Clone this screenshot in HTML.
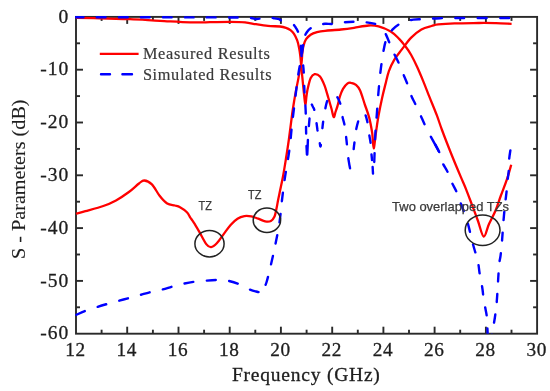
<!DOCTYPE html>
<html><head><meta charset="utf-8"><style>
html,body{margin:0;padding:0;background:#fff;width:550px;height:391px;overflow:hidden}
svg{display:block}
</style></head><body>
<svg width="550" height="391" viewBox="0 0 550 391">
<rect width="550" height="391" fill="#fff"/>
<defs><clipPath id="c"><rect x="75.0" y="12.899999999999999" width="463.1" height="320.8"/></clipPath></defs>

<g stroke="#2a2a2a" stroke-width="1.9" fill="none">
<rect x="76.0" y="16.9" width="461.1" height="316.8"/>
<line x1="101.6" y1="333.7" x2="101.6" y2="329.7"/>
<line x1="101.6" y1="16.9" x2="101.6" y2="20.9"/>
<line x1="127.2" y1="333.7" x2="127.2" y2="326.7"/>
<line x1="127.2" y1="16.9" x2="127.2" y2="23.9"/>
<line x1="152.9" y1="333.7" x2="152.9" y2="329.7"/>
<line x1="152.9" y1="16.9" x2="152.9" y2="20.9"/>
<line x1="178.5" y1="333.7" x2="178.5" y2="326.7"/>
<line x1="178.5" y1="16.9" x2="178.5" y2="23.9"/>
<line x1="204.1" y1="333.7" x2="204.1" y2="329.7"/>
<line x1="204.1" y1="16.9" x2="204.1" y2="20.9"/>
<line x1="229.7" y1="333.7" x2="229.7" y2="326.7"/>
<line x1="229.7" y1="16.9" x2="229.7" y2="23.9"/>
<line x1="255.3" y1="333.7" x2="255.3" y2="329.7"/>
<line x1="255.3" y1="16.9" x2="255.3" y2="20.9"/>
<line x1="280.9" y1="333.7" x2="280.9" y2="326.7"/>
<line x1="280.9" y1="16.9" x2="280.9" y2="23.9"/>
<line x1="306.6" y1="333.7" x2="306.6" y2="329.7"/>
<line x1="306.6" y1="16.9" x2="306.6" y2="20.9"/>
<line x1="332.2" y1="333.7" x2="332.2" y2="326.7"/>
<line x1="332.2" y1="16.9" x2="332.2" y2="23.9"/>
<line x1="357.8" y1="333.7" x2="357.8" y2="329.7"/>
<line x1="357.8" y1="16.9" x2="357.8" y2="20.9"/>
<line x1="383.4" y1="333.7" x2="383.4" y2="326.7"/>
<line x1="383.4" y1="16.9" x2="383.4" y2="23.9"/>
<line x1="409.0" y1="333.7" x2="409.0" y2="329.7"/>
<line x1="409.0" y1="16.9" x2="409.0" y2="20.9"/>
<line x1="434.6" y1="333.7" x2="434.6" y2="326.7"/>
<line x1="434.6" y1="16.9" x2="434.6" y2="23.9"/>
<line x1="460.2" y1="333.7" x2="460.2" y2="329.7"/>
<line x1="460.2" y1="16.9" x2="460.2" y2="20.9"/>
<line x1="485.9" y1="333.7" x2="485.9" y2="326.7"/>
<line x1="485.9" y1="16.9" x2="485.9" y2="23.9"/>
<line x1="511.5" y1="333.7" x2="511.5" y2="329.7"/>
<line x1="511.5" y1="16.9" x2="511.5" y2="20.9"/>
<line x1="76.0" y1="43.3" x2="80.0" y2="43.3"/>
<line x1="537.1" y1="43.3" x2="533.1" y2="43.3"/>
<line x1="76.0" y1="69.7" x2="83.0" y2="69.7"/>
<line x1="537.1" y1="69.7" x2="530.1" y2="69.7"/>
<line x1="76.0" y1="96.1" x2="80.0" y2="96.1"/>
<line x1="537.1" y1="96.1" x2="533.1" y2="96.1"/>
<line x1="76.0" y1="122.5" x2="83.0" y2="122.5"/>
<line x1="537.1" y1="122.5" x2="530.1" y2="122.5"/>
<line x1="76.0" y1="148.9" x2="80.0" y2="148.9"/>
<line x1="537.1" y1="148.9" x2="533.1" y2="148.9"/>
<line x1="76.0" y1="175.3" x2="83.0" y2="175.3"/>
<line x1="537.1" y1="175.3" x2="530.1" y2="175.3"/>
<line x1="76.0" y1="201.7" x2="80.0" y2="201.7"/>
<line x1="537.1" y1="201.7" x2="533.1" y2="201.7"/>
<line x1="76.0" y1="228.1" x2="83.0" y2="228.1"/>
<line x1="537.1" y1="228.1" x2="530.1" y2="228.1"/>
<line x1="76.0" y1="254.5" x2="80.0" y2="254.5"/>
<line x1="537.1" y1="254.5" x2="533.1" y2="254.5"/>
<line x1="76.0" y1="280.9" x2="83.0" y2="280.9"/>
<line x1="537.1" y1="280.9" x2="530.1" y2="280.9"/>
<line x1="76.0" y1="307.3" x2="80.0" y2="307.3"/>
<line x1="537.1" y1="307.3" x2="533.1" y2="307.3"/>
</g>
<g clip-path="url(#c)" fill="none" stroke-linejoin="round">
<path d="M76.0,17.9 C80.0,18.0 91.0,18.1 100.0,18.3 C109.0,18.5 120.0,18.8 130.0,19.2 C140.0,19.6 150.0,20.3 160.0,20.8 C170.0,21.3 181.7,22.1 190.0,22.3 C198.3,22.5 203.3,22.3 210.0,22.2 C216.7,22.1 224.2,21.9 230.0,21.9 C235.8,21.9 240.7,22.0 245.0,22.4 C249.3,22.8 252.2,23.6 256.0,24.2 C259.8,24.8 264.0,25.5 268.0,25.9 C272.0,26.3 277.0,26.2 280.0,26.5 C283.0,26.8 284.2,27.2 286.0,27.8 C287.8,28.4 289.2,29.2 290.5,30.2 C291.8,31.2 292.9,32.1 294.0,33.8 C295.1,35.5 296.3,37.9 297.2,40.3 C298.1,42.7 298.6,45.5 299.1,48.1 C299.6,50.7 300.0,53.2 300.3,55.8 C300.6,58.4 300.8,60.8 301.0,63.5 C301.2,66.2 301.5,68.9 301.8,72.0 C302.1,75.1 302.5,78.7 302.8,82.0 C303.1,85.3 303.4,88.3 303.8,92.0 C304.2,95.7 304.9,103.6 305.3,104.3 C305.8,105.0 306.1,98.6 306.5,96.0 C306.9,93.4 307.0,91.8 307.7,88.8 C308.4,85.8 309.5,80.4 310.7,78.0 C311.9,75.6 313.1,74.5 314.6,74.2 C316.2,74.0 318.3,74.6 320.0,76.5 C321.7,78.4 323.2,82.1 324.6,85.7 C326.0,89.3 327.2,94.2 328.4,98.0 C329.5,101.8 330.6,105.5 331.5,108.7 C332.4,111.9 333.0,116.5 333.7,117.0 C334.4,117.5 334.9,113.9 335.5,112.0 C336.1,110.1 336.9,108.2 337.6,105.6 C338.3,103.0 339.0,99.2 339.9,96.4 C340.8,93.6 341.7,91.0 343.0,88.8 C344.3,86.6 346.3,84.4 347.6,83.4 C348.9,82.4 349.6,82.5 351.0,82.8 C352.4,83.0 354.5,83.7 356.0,84.9 C357.5,86.2 358.6,87.2 360.0,90.3 C361.4,93.4 363.1,99.2 364.6,103.8 C366.1,108.3 367.9,112.7 369.2,117.6 C370.5,122.5 371.4,127.9 372.2,133.0 C372.9,138.1 373.1,148.2 373.7,148.3 C374.3,148.4 375.0,139.1 375.8,133.7 C376.6,128.3 377.4,121.8 378.5,115.8 C379.6,109.8 380.9,103.3 382.1,97.9 C383.3,92.5 384.5,88.0 385.6,83.6 C386.7,79.1 387.5,75.2 388.9,71.2 C390.3,67.2 392.3,63.0 394.2,59.8 C396.1,56.6 398.5,53.8 400.0,51.8 C401.5,49.8 401.1,50.3 403.0,47.9 C404.9,45.5 408.1,40.7 411.2,37.6 C414.3,34.5 418.0,31.3 421.4,29.4 C424.8,27.5 428.8,26.8 431.6,26.0 C434.4,25.2 434.4,24.8 438.2,24.4 C442.0,24.0 447.7,23.6 454.5,23.4 C461.3,23.2 472.1,23.1 479.0,23.0 C485.9,22.9 490.6,23.0 496.0,23.1 C501.4,23.2 509.0,23.7 511.6,23.8" stroke="#ff0000" stroke-width="2.3"/>
<path d="M76.0,213.7 C77.6,213.3 80.9,212.5 85.4,211.2 C90.0,209.9 98.2,207.8 103.3,206.0 C108.4,204.2 111.7,202.7 116.0,200.4 C120.3,198.1 125.1,194.8 128.9,192.0 C132.7,189.2 136.4,185.4 139.0,183.5 C141.6,181.6 142.0,180.4 144.2,180.5 C146.3,180.6 149.3,181.8 151.9,184.3 C154.5,186.9 157.1,192.6 159.6,195.8 C162.1,199.0 164.6,201.9 167.2,203.5 C169.8,205.1 172.8,204.9 174.9,205.5 C177.0,206.1 178.0,206.1 180.0,207.2 C182.0,208.3 185.2,210.5 186.9,212.2 C188.6,213.9 189.2,215.9 190.3,217.6 C191.5,219.3 192.3,220.3 193.8,222.6 C195.3,224.9 197.1,228.0 199.2,231.6 C201.3,235.2 204.5,241.8 206.5,244.4 C208.5,247.0 209.4,247.4 211.1,247.2 C212.8,247.0 214.7,245.5 216.8,243.3 C218.9,241.1 221.4,237.2 223.7,234.1 C226.0,231.0 228.3,227.5 230.6,224.9 C232.9,222.3 235.2,220.2 237.5,218.7 C239.8,217.2 242.1,216.5 244.4,216.1 C246.7,215.7 249.0,216.0 251.3,216.4 C253.6,216.8 256.0,217.9 258.3,218.7 C260.6,219.5 263.1,221.0 265.2,221.4 C267.3,221.8 269.4,221.8 270.9,221.0 C272.4,220.2 273.4,219.0 274.4,216.8 C275.4,214.6 276.1,210.4 276.7,207.6 C277.3,204.8 277.5,203.1 278.1,200.0 C278.7,196.9 279.5,193.5 280.4,189.1 C281.3,184.7 282.5,179.3 283.5,173.7 C284.5,168.1 285.6,160.9 286.5,155.3 C287.4,149.7 287.8,147.1 288.8,140.0 C289.8,132.9 291.4,119.3 292.3,113.0 C293.2,106.7 293.4,105.8 294.0,102.0 C294.6,98.2 295.4,93.9 296.1,90.0 C296.8,86.1 297.7,82.1 298.4,78.4 C299.1,74.7 299.7,70.7 300.2,68.0 C300.7,65.3 301.2,64.7 301.6,62.2 C302.0,59.7 302.0,56.0 302.3,53.2 C302.6,50.4 302.9,47.9 303.5,45.6 C304.1,43.3 304.9,41.0 306.1,39.2 C307.3,37.4 308.8,35.9 310.6,34.7 C312.4,33.5 314.6,32.8 317.0,32.1 C319.4,31.5 321.0,31.2 325.0,30.8 C329.0,30.4 336.1,30.0 340.9,29.5 C345.7,29.0 349.4,28.5 354.0,27.8 C358.6,27.1 364.6,25.7 368.7,25.5 C372.8,25.3 374.9,25.4 378.6,26.4 C382.3,27.4 387.3,29.5 390.7,31.5 C394.1,33.5 396.5,36.2 398.9,38.6 C401.3,41.0 402.9,43.1 405.0,45.8 C407.1,48.5 409.1,51.4 411.2,55.0 C413.2,58.6 415.3,62.9 417.3,67.3 C419.3,71.7 421.5,77.0 423.4,81.6 C425.3,86.2 426.4,89.2 428.6,94.8 C430.8,100.4 434.6,109.3 436.8,115.2 C439.0,121.1 439.7,123.8 442.0,130.0 C444.3,136.2 447.6,144.7 450.7,152.5 C453.8,160.3 458.3,171.0 460.9,177.1 C463.5,183.2 464.2,184.5 466.1,189.3 C468.0,194.1 470.3,200.4 472.3,205.7 C474.3,211.0 476.1,215.8 478.0,221.0 C479.9,226.2 481.9,236.1 483.7,236.6 C485.5,237.1 487.0,228.4 489.0,224.0 C491.0,219.6 493.8,214.8 495.8,210.0 C497.8,205.2 499.0,200.7 500.9,195.5 C502.8,190.3 505.3,184.2 507.0,179.1 C508.7,174.0 510.5,167.2 511.2,164.8" stroke="#ff0000" stroke-width="2.3"/>
<path d="M76.00,17.20 C88.33,17.22 129.33,17.27 150.00,17.30 C170.67,17.33 184.17,17.35 200.00,17.40 C215.83,17.45 235.67,17.33 245.00,17.60 C254.33,17.87 253.17,18.90 256.00,19.00 C258.83,19.10 259.67,18.43 262.00,18.20 C264.33,17.97 267.90,17.57 270.00,17.60 C272.10,17.63 273.10,18.13 274.60,18.40 C276.10,18.67 277.85,18.82 279.00,19.20 C280.15,19.58 280.33,20.23 281.50,20.70 C282.67,21.17 284.58,21.62 286.00,22.00" stroke="#0000ff" stroke-width="2.4" stroke-linecap="round" stroke-dasharray="8.74 13.26" stroke-dashoffset="1.13"/>
<path d="M293.97,25.14 L294.39,25.63 L294.78,26.15 L295.16,26.68 L295.51,27.23 L295.86,27.78 L296.20,28.33 L296.54,28.88 L296.87,29.44 L297.19,30.01 L297.48,30.59 L297.76,31.18 L298.02,31.77 L298.02,31.77 M300.96,45.64 L301.04,46.50 L301.10,47.37 L301.15,48.23 L301.19,49.10 L301.22,49.96 L301.26,50.83 L301.29,51.70 L301.32,52.56 L301.36,53.43 L301.40,54.29 L301.45,55.16 L301.51,56.02 L301.51,56.02 M303.16,65.47 L303.23,66.07 L303.29,66.66 L303.35,67.26 L303.41,67.86 L303.46,68.45 L303.51,69.05 L303.55,69.65 L303.60,70.25 L303.64,70.85 L303.68,71.45 L303.72,72.05 L303.76,72.64 L303.76,72.64 M304.23,85.83 L304.26,86.38 L304.28,86.93 L304.30,87.48 L304.32,88.03 L304.35,88.58 L304.37,89.13 L304.40,89.68 L304.43,90.23 L304.45,90.78 L304.48,91.33 L304.51,91.88 L304.54,92.43 L304.54,92.43 M305.39,105.40 L305.43,106.08 L305.46,106.76 L305.50,107.45 L305.53,108.13 L305.57,108.81 L305.60,109.49 L305.63,110.18 L305.66,110.86 L305.68,111.54 L305.71,112.23 L305.73,112.91 L305.76,113.59 L305.76,113.59 M306.02,126.99 L306.03,127.54 L306.04,128.09 L306.05,128.64 L306.06,129.19 L306.07,129.74 L306.08,130.29 L306.09,130.84 L306.10,131.39 L306.11,131.94 L306.12,132.49 L306.13,133.04 L306.14,133.59 L306.14,133.59 M306.52,145.98 L306.54,146.70 L306.57,147.41 L306.61,148.13 L306.64,148.85 L306.67,149.56 L306.71,150.28 L306.74,150.99 L306.77,151.71 L306.81,152.42 L306.85,153.14 L306.90,153.86 L306.95,154.57 L306.95,154.57 M307.23,154.67 L307.32,153.44 L307.39,152.21 L307.45,150.98 L307.51,149.74 L307.57,148.51 L307.63,147.28 L307.68,146.05 L307.73,144.82 L307.77,143.58 L307.81,142.35 L307.86,141.12 L307.91,139.89 L307.91,139.89 M308.87,126.12 L308.92,125.49 L308.97,124.86 L309.03,124.23 L309.08,123.60 L309.13,122.96 L309.19,122.33 L309.24,121.70 L309.30,121.07 L309.35,120.44 L309.41,119.81 L309.46,119.18 L309.52,118.55 L309.52,118.55 M311.76,104.59 L312.06,104.99 L312.29,105.43 L312.50,105.89 L312.70,106.35 L312.91,106.80 L313.13,107.25 L313.38,107.68 L313.63,108.12 L313.85,108.56 L314.05,109.02 L314.21,109.50 L314.30,109.78 M316.53,123.19 L316.62,123.80 L316.71,124.41 L316.79,125.02 L316.88,125.63 L316.96,126.24 L317.04,126.86 L317.12,127.47 L317.20,128.08 L317.28,128.69 L317.37,129.30 L317.45,129.91 L317.55,130.52 L317.55,130.52 M319.78,143.12 L319.86,143.62 L319.93,144.11 L320.00,144.61 L320.07,145.10 L320.15,145.60 L320.25,146.09 L320.47,146.51 L320.68,146.08 L320.79,145.59 L320.88,145.10 L320.91,144.90 M322.40,128.17 L322.46,127.63 L322.51,127.08 L322.57,126.53 L322.63,125.98 L322.69,125.44 L322.75,124.89 L322.82,124.35 L322.88,123.80 L322.95,123.25 L323.02,122.71 L323.10,122.16 L323.17,121.62 L323.17,121.62 M325.40,108.20 L325.52,107.60 L325.65,107.00 L325.77,106.39 L325.91,105.79 L326.04,105.19 L326.18,104.59 L326.32,103.99 L326.47,103.39 L326.63,102.79 L326.80,102.20 L326.98,101.61 L327.19,101.03 L327.19,101.03 M337.30,97.18 L337.61,97.69 L337.90,98.22 L338.18,98.75 L338.45,99.28 L338.71,99.82 L338.97,100.36 L339.22,100.91 L339.46,101.46 L339.69,102.01 L339.91,102.57 L340.12,103.13 L340.32,103.70 L340.32,103.70 M342.53,117.09 L342.67,117.71 L342.82,118.32 L342.98,118.94 L343.15,119.55 L343.32,120.16 L343.49,120.77 L343.66,121.38 L343.83,121.99 L343.99,122.60 L344.14,123.22 L344.29,123.83 L344.43,124.45 L344.43,124.45 M346.11,136.93 L346.18,137.55 L346.25,138.16 L346.32,138.77 L346.39,139.38 L346.46,140.00 L346.52,140.61 L346.59,141.22 L346.65,141.84 L346.71,142.45 L346.78,143.06 L346.84,143.68 L346.91,144.29 L346.91,144.29 M348.32,158.22 L348.44,159.06 L348.57,159.90 L348.70,160.74 L348.83,161.58 L348.97,162.42 L349.11,163.26 L349.25,164.09 L349.40,164.93 L349.55,165.77 L349.71,166.60 L349.88,167.43 L350.06,168.27 L350.06,168.27 M353.68,149.11 L353.74,148.54 L353.79,147.98 L353.85,147.42 L353.91,146.85 L353.98,146.29 L354.04,145.73 L354.11,145.17 L354.19,144.60 L354.26,144.04 L354.33,143.48 L354.41,142.92 L354.48,142.36 L354.48,142.36 M356.26,129.08 L356.39,128.44 L356.52,127.81 L356.66,127.17 L356.81,126.54 L356.96,125.91 L357.12,125.28 L357.29,124.65 L357.46,124.02 L357.63,123.39 L357.80,122.77 L357.98,122.14 L358.16,121.52 L358.16,121.52 M365.60,115.41 L365.79,115.96 L365.98,116.51 L366.15,117.07 L366.31,117.63 L366.47,118.19 L366.62,118.75 L366.77,119.32 L366.91,119.88 L367.05,120.45 L367.18,121.02 L367.31,121.59 L367.43,122.16 L367.43,122.16 M369.34,135.42 L369.45,136.03 L369.55,136.63 L369.66,137.24 L369.77,137.85 L369.88,138.46 L369.99,139.06 L370.10,139.67 L370.20,140.28 L370.30,140.88 L370.40,141.49 L370.49,142.10 L370.58,142.71 L370.58,142.71 M371.50,154.48 L371.54,154.97 L371.59,155.47 L371.63,155.97 L371.68,156.47 L371.73,156.97 L371.77,157.46 L371.82,157.96 L371.87,158.46 L371.92,158.96 L371.97,159.45 L372.02,159.95 L372.03,160.05 M372.64,167.02 L372.67,167.57 L372.70,168.12 L372.73,168.67 L372.76,169.22 L372.79,169.77 L372.82,170.32 L372.85,170.87 L372.88,171.42 L372.91,171.97 L372.94,172.52 L372.98,173.06 L373.02,173.61 L373.02,173.61" stroke="#0000ff" stroke-width="2.4" stroke-linecap="round"/>
<path d="M373.20,175.00 C373.45,175.50 373.65,174.75 374.00,168.00 C374.35,161.25 374.83,143.40 375.30,134.50 C375.77,125.60 376.28,121.52 376.80,114.60 C377.32,107.68 377.78,100.20 378.40,93.00 C379.02,85.80 379.65,78.40 380.50,71.40 C381.35,64.40 382.48,56.47 383.50,51.00 C384.52,45.53 385.07,42.20 386.60,38.60 C388.13,35.00 390.32,31.95 392.70,29.40 C395.08,26.85 397.48,24.93 400.90,23.30 C404.32,21.67 409.10,20.28 413.20,19.60 C417.30,18.92 421.03,19.43 425.50,19.20 C429.97,18.97 432.58,18.40 440.00,18.20 C447.42,18.00 458.25,18.03 470.00,18.00 C481.75,17.97 503.75,18.00 510.50,18.00" stroke="#0000ff" stroke-width="2.4" stroke-linecap="round" stroke-dasharray="8.88 13.42" stroke-dashoffset="8.9"/>
<path d="M76.00,315.00 C77.50,314.33 81.50,312.33 85.00,311.00 C88.50,309.67 93.33,308.17 97.00,307.00 C100.67,305.83 103.50,305.00 107.00,304.00 C110.50,303.00 114.33,302.00 118.00,301.00 C121.67,300.00 125.33,299.00 129.00,298.00 C132.67,297.00 136.33,296.00 140.00,295.00 C143.67,294.00 147.33,292.90 151.00,292.00 C154.67,291.10 158.33,290.53 162.00,289.60 C165.67,288.67 169.33,287.40 173.00,286.40 C176.67,285.40 180.50,284.37 184.00,283.60 C187.50,282.83 190.33,282.28 194.00,281.80 C197.67,281.32 202.33,281.00 206.00,280.70 C209.67,280.40 213.33,280.12 216.00,280.00 C218.67,279.88 220.00,279.88 222.00,280.00 C224.00,280.12 225.40,280.10 228.00,280.70 C230.60,281.30 234.00,282.13 237.60,283.60 C241.20,285.07 246.53,288.18 249.60,289.50 C252.67,290.82 254.10,291.08 256.00,291.50 C257.90,291.92 259.67,292.58 261.00,292.00" stroke="#0000ff" stroke-width="2.4" stroke-linecap="round" stroke-dasharray="8.97 13.53" stroke-dashoffset="-0.65"/>
<path d="M261.00,292.00 C262.33,291.42 263.07,289.67 264.00,288.00 C264.93,286.33 265.52,285.57 266.60,282.00 C267.68,278.43 269.10,272.57 270.50,266.60 C271.90,260.63 273.52,253.45 275.00,246.20 C276.48,238.95 278.23,230.80 279.40,223.10 C280.57,215.40 281.12,207.33 282.00,200.00 C282.88,192.67 283.68,186.03 284.70,179.10 C285.72,172.17 287.22,164.08 288.10,158.40 C288.98,152.72 289.35,150.57 290.00,145.00 C290.65,139.43 291.17,132.50 292.00,125.00 C292.83,117.50 293.97,108.33 295.00,100.00 C296.03,91.67 297.28,81.33 298.20,75.00 C299.12,68.67 299.78,66.17 300.50,62.00 C301.22,57.83 301.88,54.00 302.50,50.00 C303.12,46.00 303.45,41.00 304.20,38.00" stroke="#0000ff" stroke-width="2.4" stroke-linecap="round" stroke-dasharray="8.41 12.89" stroke-dashoffset="12.6"/>
<path d="M304.20,38.00 C304.95,35.00 305.93,33.62 307.00,32.00 C308.07,30.38 308.93,29.38 310.60,28.30 C312.27,27.22 314.60,26.25 317.00,25.50 C319.40,24.75 322.38,24.07 325.00,23.80 C327.62,23.53 329.50,24.15 332.70,23.90 C335.90,23.65 340.65,22.65 344.20,22.30 C347.75,21.95 350.32,21.80 354.00,21.80 C357.68,21.80 362.75,21.95 366.30,22.30 C369.85,22.65 372.85,23.12 375.30,23.90 C377.75,24.68 379.37,25.50 381.00,27.00" stroke="#0000ff" stroke-width="2.4" stroke-linecap="round" stroke-dasharray="8.65 13.15" stroke-dashoffset="18.45"/>
<path d="M381.00,27.00 C382.63,28.50 383.83,30.62 385.10,32.90 C386.37,35.18 387.33,37.68 388.60,40.70 C389.87,43.72 391.15,47.58 392.70,51.00 C394.25,54.42 396.18,57.47 397.90,61.20 C399.62,64.93 401.45,69.68 403.00,73.40 C404.55,77.12 405.82,79.77 407.20,83.50 C408.58,87.23 409.95,92.38 411.30,95.80 C412.65,99.22 413.77,100.77 415.30,104.00 C416.83,107.23 418.95,111.80 420.50,115.20 C422.05,118.60 422.97,120.98 424.60,124.40 C426.23,127.82 428.57,132.43 430.30,135.70" stroke="#0000ff" stroke-width="2.4" stroke-linecap="round" stroke-dasharray="8.88 13.42" stroke-dashoffset="13.58"/>
<path d="M430.30,135.70 C432.03,138.97 433.48,141.20 435.00,144.00 C436.52,146.80 438.15,149.38 439.40,152.50 C440.65,155.62 441.13,159.45 442.50,162.70 C443.87,165.95 446.07,168.75 447.60,172.00 C449.13,175.25 450.17,178.80 451.70,182.20 C453.23,185.60 455.27,188.82 456.80,192.40 C458.33,195.98 459.70,200.43 460.90,203.70 C462.10,206.97 462.87,208.78 464.00,212.00 C465.13,215.22 466.70,219.67 467.70,223.00 C468.70,226.33 469.08,228.33 470.00,232.00 C470.92,235.67 472.23,241.33 473.20,245.00 C474.17,248.67 474.93,250.78 475.80,254.00 C476.67,257.22 477.77,261.10 478.40,264.30 C479.03,267.50 478.97,269.37 479.60,273.20 C480.23,277.03 481.55,283.25 482.20,287.30 C482.85,291.35 482.95,293.88 483.50,297.50 C484.05,301.12 484.95,305.80 485.50,309.00 C486.05,312.20 486.47,313.20 486.80,316.70 C487.13,320.20 487.22,325.28 487.50,330.00 C487.78,334.72 487.92,342.50 488.50,345.00" stroke="#0000ff" stroke-width="2.4" stroke-linecap="round" stroke-dasharray="8.46 12.94" stroke-dashoffset="11.14"/>
<path d="M488.50,345.00 C489.08,347.50 490.35,347.80 491.00,345.00 C491.65,342.20 491.87,332.07 492.40,328.20 C492.93,324.33 493.55,325.42 494.20,321.80 C494.85,318.18 495.75,311.60 496.30,306.50 C496.85,301.40 497.17,296.12 497.50,291.20 C497.83,286.28 498.00,281.70 498.30,277.00 C498.60,272.30 498.92,266.62 499.30,263.00 C499.68,259.38 500.13,259.13 500.60,255.30 C501.07,251.47 501.65,245.38 502.10,240.00 C502.55,234.62 502.82,228.83 503.30,223.00 C503.78,217.17 504.45,210.27 505.00,205.00 C505.55,199.73 506.17,195.57 506.60,191.40 C507.03,187.23 507.25,183.40 507.60,180.00 C507.95,176.60 508.45,174.38 508.70,171.00 C508.95,167.62 508.80,163.28 509.10,159.70 C509.40,156.12 510.27,151.20 510.50,149.50" stroke="#0000ff" stroke-width="2.4" stroke-linecap="round" stroke-dasharray="8.08 12.52" stroke-dashoffset="13.5"/>
<path d="M430.8,136.7 L434.5,143.4 L438.7,151.3" stroke="#0000ff" stroke-width="2.4" stroke-linecap="round"/>
</g>
<g font-family="'Liberation Serif', serif" font-size="19.5" fill="#1e1e1e" stroke="#1e1e1e" stroke-width="0.3">
<text x="75.6" y="355.8" text-anchor="middle" font-size="19.3" letter-spacing="0.6">12</text>
<text x="126.8" y="355.8" text-anchor="middle" font-size="19.3" letter-spacing="0.6">14</text>
<text x="178.1" y="355.8" text-anchor="middle" font-size="19.3" letter-spacing="0.6">16</text>
<text x="229.3" y="355.8" text-anchor="middle" font-size="19.3" letter-spacing="0.6">18</text>
<text x="280.5" y="355.8" text-anchor="middle" font-size="19.3" letter-spacing="0.6">20</text>
<text x="331.8" y="355.8" text-anchor="middle" font-size="19.3" letter-spacing="0.6">22</text>
<text x="383.0" y="355.8" text-anchor="middle" font-size="19.3" letter-spacing="0.6">24</text>
<text x="434.2" y="355.8" text-anchor="middle" font-size="19.3" letter-spacing="0.6">26</text>
<text x="485.5" y="355.8" text-anchor="middle" font-size="19.3" letter-spacing="0.6">28</text>
<text x="536.7" y="355.8" text-anchor="middle" font-size="19.3" letter-spacing="0.6">30</text>
<text x="69.2" y="22.5" text-anchor="end" font-size="19.5" letter-spacing="1">0</text>
<text x="69.2" y="75.3" text-anchor="end" font-size="19.5" letter-spacing="1">-10</text>
<text x="69.2" y="128.1" text-anchor="end" font-size="19.5" letter-spacing="1">-20</text>
<text x="69.2" y="180.9" text-anchor="end" font-size="19.5" letter-spacing="1">-30</text>
<text x="69.2" y="233.7" text-anchor="end" font-size="19.5" letter-spacing="1">-40</text>
<text x="69.2" y="286.5" text-anchor="end" font-size="19.5" letter-spacing="1">-50</text>
<text x="69.2" y="339.3" text-anchor="end" font-size="19.5" letter-spacing="1">-60</text>
<text x="306.3" y="381.2" text-anchor="middle" letter-spacing="0.78">Frequency (GHz)</text>
<text transform="translate(24.6,179.2) rotate(-90) scale(1.09,1)" text-anchor="middle" font-size="18.5" stroke-width="0.1">S - Parameters (dB)</text>
</g>
<g font-family="'Liberation Serif', serif" font-size="16.3" fill="#3a3a3a">
<line x1="99.8" y1="53.8" x2="138.6" y2="53.8" stroke="#ff0000" stroke-width="2.3"/>
<path d="M101,74.2 H110 M122.4,74.2 H132" stroke="#0000ff" stroke-width="2.4" stroke-linecap="round"/>
<text x="142.9" y="59.1" letter-spacing="0.72" stroke="#3a3a3a" stroke-width="0.2">Measured Results</text>
<text x="142.9" y="79.8" letter-spacing="0.66" stroke="#3a3a3a" stroke-width="0.2">Simulated Results</text>
</g>
<g fill="none" stroke="#222" stroke-width="1.5">
<ellipse cx="209.5" cy="243.7" rx="14.6" ry="13.2"/>
<ellipse cx="266.9" cy="220.3" rx="13.7" ry="12.2"/>
<ellipse cx="482.6" cy="230.2" rx="17.4" ry="15.3"/>
</g>
<g font-family="'Liberation Sans', sans-serif" font-size="12.4" fill="#3a3a3a" stroke="#3a3a3a" stroke-width="0.25">
<text x="198.6" y="209.5" textLength="13.4" lengthAdjust="spacingAndGlyphs">TZ</text>
<text x="248.1" y="198.7" textLength="13.4" lengthAdjust="spacingAndGlyphs">TZ</text>
<text x="392.1" y="211.4" textLength="117" lengthAdjust="spacingAndGlyphs">Two overlapped TZs</text>
</g>
</svg>
</body></html>
